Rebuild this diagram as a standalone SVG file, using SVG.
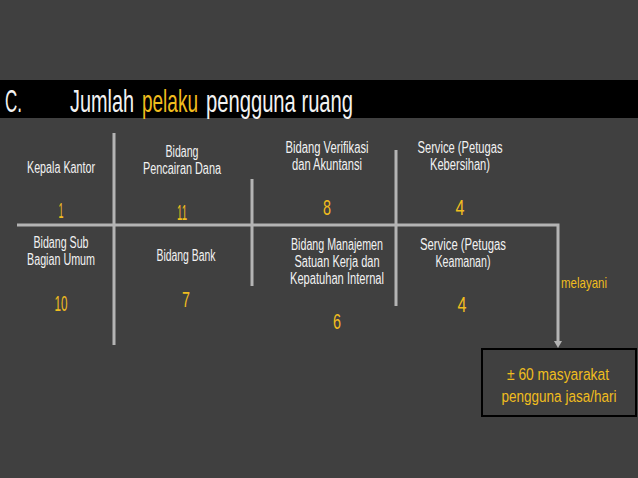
<svg xmlns="http://www.w3.org/2000/svg" width="638" height="478" viewBox="0 0 638 478">
<defs>
<style>
text{font-family:"Liberation Sans","DejaVu Sans",sans-serif;}
.lb{fill:#f2f2f2;font-size:16px;text-anchor:middle;}
.n{fill:#f0bd1e;font-size:22px;text-anchor:middle;}
.t{font-size:32px;fill:#f2f2f2;}
.y{fill:#f0bd1e;}
.ln{stroke:#b4b4b4;stroke-width:3;fill:none;}
</style>
<marker id="ah" markerWidth="8" markerHeight="10" refX="0" refY="4" orient="auto" markerUnits="userSpaceOnUse" viewBox="0 0 8 8">
<path d="M0,0 L7,4 L0,8 Z" fill="#b4b4b4"/>
</marker>
</defs>
<rect width="638" height="478" fill="#404040"/>
<rect x="0" y="80" width="638" height="38" fill="#000"/>
<g transform="translate(0,112) scale(0.62,1)">
<text class="t" x="8" y="0" textLength="27.4" lengthAdjust="spacingAndGlyphs">C.</text>
<text class="t" x="112.9" y="0" textLength="103.2" lengthAdjust="spacingAndGlyphs">Jumlah</text>
<text class="t" x="229" y="0" fill="#f0bd1e" style="fill:#f0bd1e" textLength="90.3" lengthAdjust="spacingAndGlyphs">pelaku</text>
<text class="t" x="332.3" y="0" textLength="237.1" lengthAdjust="spacingAndGlyphs">pengguna ruang</text>
</g>

<g id="connectors">
<line class="ln" x1="114" y1="133" x2="114" y2="345"/>
<line class="ln" x1="252" y1="179" x2="252" y2="286"/>
<line class="ln" x1="396" y1="150" x2="396" y2="306"/>
<path class="ln" d="M17,225 H558 V341" marker-end="url(#ah)"/>
</g>

<g id="kepala-kantor">
<text class="lb" x="61" y="173" textLength="68" lengthAdjust="spacingAndGlyphs">Kepala Kantor</text>
<text class="n" x="61" y="218" textLength="5" lengthAdjust="spacingAndGlyphs">1</text>
</g>
<g id="bidang-pencairan">
<text class="lb" x="182" y="157" textLength="33" lengthAdjust="spacingAndGlyphs">Bidang</text>
<text class="lb" x="182" y="174" textLength="78" lengthAdjust="spacingAndGlyphs">Pencairan Dana</text>
<text class="n" x="182" y="220" textLength="10" lengthAdjust="spacingAndGlyphs">11</text>
</g>
<g id="bidang-verifikasi">
<text class="lb" x="327" y="153" textLength="83" lengthAdjust="spacingAndGlyphs">Bidang Verifikasi</text>
<text class="lb" x="327" y="170" textLength="70" lengthAdjust="spacingAndGlyphs">dan Akuntansi</text>
<text class="n" x="327" y="215" textLength="8" lengthAdjust="spacingAndGlyphs">8</text>
</g>
<g id="service-kebersihan">
<text class="lb" x="460" y="153" textLength="85" lengthAdjust="spacingAndGlyphs">Service (Petugas</text>
<text class="lb" x="460" y="170" textLength="60" lengthAdjust="spacingAndGlyphs">Kebersihan)</text>
<text class="n" x="460" y="215" textLength="9" lengthAdjust="spacingAndGlyphs">4</text>
</g>
<g id="bidang-sub">
<text class="lb" x="61" y="248" textLength="55" lengthAdjust="spacingAndGlyphs">Bidang Sub</text>
<text class="lb" x="61" y="265" textLength="68" lengthAdjust="spacingAndGlyphs">Bagian Umum</text>
<text class="n" x="61" y="311" textLength="13" lengthAdjust="spacingAndGlyphs">10</text>
</g>
<g id="bidang-bank">
<text class="lb" x="186" y="261" textLength="59" lengthAdjust="spacingAndGlyphs">Bidang Bank</text>
<text class="n" x="186" y="307" textLength="8" lengthAdjust="spacingAndGlyphs">7</text>
</g>
<g id="bidang-manajemen">
<text class="lb" x="337" y="250" textLength="92" lengthAdjust="spacingAndGlyphs">Bidang Manajemen</text>
<text class="lb" x="337" y="267" textLength="85" lengthAdjust="spacingAndGlyphs">Satuan Kerja dan</text>
<text class="lb" x="337" y="284" textLength="94" lengthAdjust="spacingAndGlyphs">Kepatuhan Internal</text>
<text class="n" x="337" y="329" textLength="8" lengthAdjust="spacingAndGlyphs">6</text>
</g>
<g id="service-keamanan">
<text class="lb" x="463" y="250" textLength="86" lengthAdjust="spacingAndGlyphs">Service (Petugas</text>
<text class="lb" x="463" y="267" textLength="55" lengthAdjust="spacingAndGlyphs">Keamanan)</text>
<text class="n" x="462" y="312" textLength="9" lengthAdjust="spacingAndGlyphs">4</text>
</g>
<text class="y" x="561" y="288" font-size="15" textLength="46" lengthAdjust="spacingAndGlyphs">melayani</text>
<g id="masyarakat">
<rect x="482" y="349" width="154" height="67" fill="#404040" stroke="#000" stroke-width="2"/>
<g transform="scale(0.8,1)">
<text class="y" x="697.5" y="380" font-size="17" text-anchor="middle" textLength="127.5" lengthAdjust="spacingAndGlyphs">± 60 masyarakat</text>
<text class="y" x="698.75" y="402" font-size="17" text-anchor="middle" textLength="143.75" lengthAdjust="spacingAndGlyphs">pengguna jasa/hari</text>
</g>
</g>
</svg>
